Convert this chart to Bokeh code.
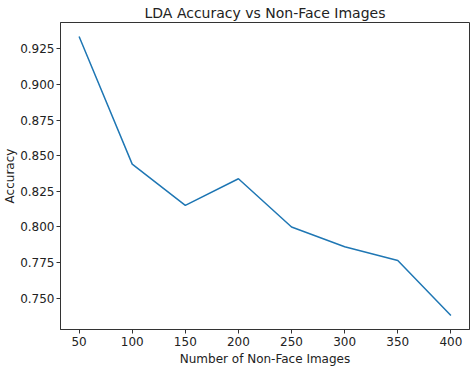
from bokeh.plotting import figure
from bokeh.models import FixedTicker, NumeralTickFormatter, Range1d
from bokeh.embed import file_html
from bokeh.resources import INLINE

num_images = [50, 100, 150, 200, 250, 300, 350, 400]
accuracy = [0.9337, 0.8441, 0.8151, 0.8338, 0.8000, 0.7861, 0.7764, 0.7378]
x_ticks = [50, 100, 150, 200, 250, 300, 350, 400]
y_ticks = [0.750, 0.775, 0.800, 0.825, 0.850, 0.875, 0.900, 0.925]

FONT = "DejaVu Sans"

xspan = max(num_images) - min(num_images)
yspan = max(accuracy) - min(accuracy)

p = figure(width=474, height=368, output_backend="svg", toolbar_location=None,
           title="LDA Accuracy vs Non-Face Images",
           x_range=Range1d(min(num_images) - 0.05 * xspan, max(num_images) + 0.05 * xspan),
           y_range=Range1d(min(accuracy) - 0.05 * yspan, max(accuracy) + 0.05 * yspan),
           min_border_left=0, min_border_right=5, min_border_top=0, min_border_bottom=0)

p.line(num_images, accuracy, line_color="#1f77b4", line_width=1.5)

p.title.text_font = FONT
p.title.text_font_size = "14px"
p.title.text_font_style = "normal"
p.title.align = "center"
p.title.text_color = "#222222"
p.title.standoff = 4

p.xgrid.visible = False
p.ygrid.visible = False
p.outline_line_color = "#333333"
p.outline_line_width = 1

p.xaxis.ticker = FixedTicker(ticks=x_ticks)
p.yaxis.ticker = FixedTicker(ticks=y_ticks)
p.yaxis.formatter = NumeralTickFormatter(format="0.000")
p.xaxis.axis_label = "Number of Non-Face Images"
p.yaxis.axis_label = "Accuracy"

for ax in (p.xaxis, p.yaxis):
    ax.axis_label_text_font = FONT
    ax.axis_label_text_font_size = "12px"
    ax.axis_label_text_font_style = "normal"
    ax.axis_label_text_color = "#222222"
    ax.major_label_text_font = FONT
    ax.major_label_text_font_size = "12px"
    ax.major_label_text_color = "#222222"
    ax.minor_tick_line_color = None
    ax.major_tick_out = 4
    ax.major_tick_in = 0
    ax.major_tick_line_color = "#333333"
    ax.axis_line_color = "#333333"

p.xaxis.major_label_standoff = 3
p.xaxis.axis_label_standoff = 3
p.yaxis.major_label_standoff = 2
p.yaxis.axis_label_standoff = 0

open("out.html", "w").write(file_html(p, INLINE))
